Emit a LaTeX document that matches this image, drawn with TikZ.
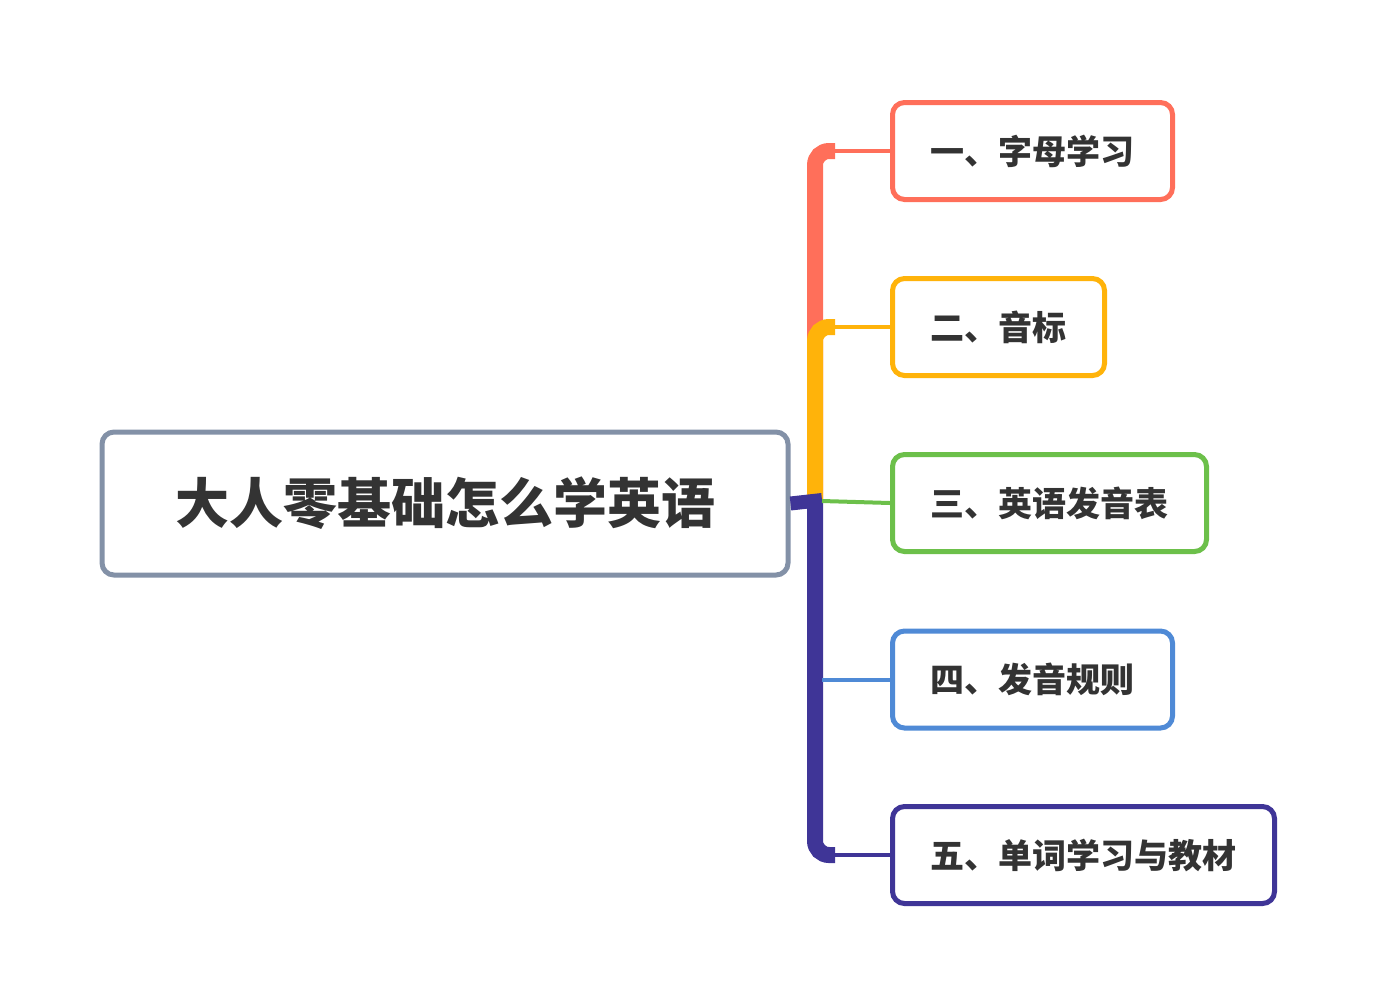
\documentclass[tikz,border=0pt]{standalone}
\usepackage{fontspec}
\newfontfamily\cjk{Noto Sans CJK SC}
\definecolor{cA}{HTML}{FF6F5A}
\definecolor{cB}{HTML}{FFB30A}
\definecolor{cC}{HTML}{6CC04A}
\definecolor{cD}{HTML}{4F8AD6}
\definecolor{cE}{HTML}{3F3597}
\definecolor{cR}{HTML}{8391A7}
\definecolor{tx}{HTML}{333333}
\begin{document}
\begin{tikzpicture}[x=1pt,y=-1pt,
 child/.style={draw,line width=5pt,rounded corners=12pt,anchor=west,minimum height=97pt,inner xsep=38pt,font=\cjk\bfseries\fontsize{34}{40}\selectfont,text=tx,fill=white},
 trunk/.style={line width=16pt,rounded corners=14pt},
 twig/.style={line width=4pt}]
\useasboundingbox (0,0) rectangle (1396,1004);
\node[draw=cR,line width=5pt,rounded corners=12pt,minimum width=686pt,minimum height=143pt,font=\cjk\bfseries\fontsize{54}{60}\selectfont,text=tx] (root) at (445,503.5) {大人零基础怎么学英语};
\node[child,draw=cA] (a) at (890,151) {一、字母学习};
\node[child,draw=cB] (b) at (890,327) {二、音标};
\node[child,draw=cC] (c) at (890,503) {三、英语发音表};
\node[child,draw=cD] (d) at (890,679.5) {四、发音规则};
\node[child,draw=cE] (e) at (890,855) {五、单词学习与教材};
\coordinate (j) at (815,500);
\draw[trunk,cA] (j) |- (835,151);
\draw[twig,cA] (822,151) -- (a.west);
\draw[trunk,cB] (j) |- (835,327);
\draw[twig,cB] (822,327) -- (b.west);
\draw[trunk,cE] (j) |- (835,855);
\draw[twig,cE] (822,855) -- (e.west);
\draw[cE,line width=14pt] (root.east) -- (822,500);
\draw[twig,cC] (822,501) -- (c.west);
\draw[twig,cD] (822,679.5) -- (d.west);
\end{tikzpicture}
\end{document}
